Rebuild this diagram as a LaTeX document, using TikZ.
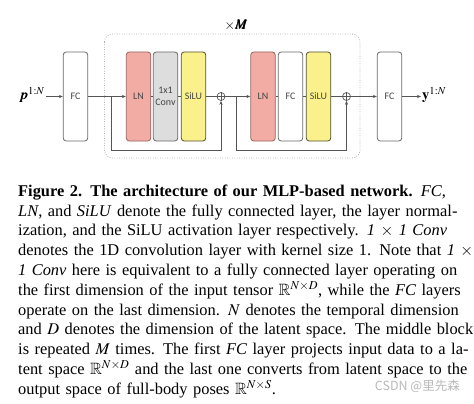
\documentclass[tikz,border=0pt]{standalone}
\usepackage{amsmath}
\usepackage{mathptmx}
\usepackage{amssymb}
\usepackage{bm}
\usepackage{fontspec}
\setmainfont{Liberation Serif}
\newfontfamily\boxfont{Carlito}
\newfontfamily\cjkfont{Noto Sans CJK SC}
\usetikzlibrary{arrows.meta}
\definecolor{lnfill}{RGB}{242,172,164}
\definecolor{lndraw}{RGB}{150,100,96}
\definecolor{convfill}{RGB}{221,221,221}
\definecolor{silufill}{RGB}{250,240,140}
\definecolor{linec}{RGB}{85,85,85}
\definecolor{boxdraw}{RGB}{105,105,105}
\definecolor{dotc}{RGB}{175,175,175}
\definecolor{wmark}{RGB}{185,185,185}
\definecolor{labc}{RGB}{70,70,70}
\tikzset{
  layer/.style={draw=boxdraw, rounded corners=3pt, minimum width=24.5pt,
    minimum height=89pt, inner sep=0pt, line width=0.8pt, align=center,
    text=labc, font=\boxfont\fontsize{10}{12.5}\selectfont},
  lnbox/.style={layer, fill=lnfill, draw=lndraw},
  convbox/.style={layer, fill=convfill},
  silubox/.style={layer, fill=silufill, draw=boxdraw!80!yellow!60!black},
  fcbox/.style={layer, fill=white},
  sumnode/.style={draw=linec, circle, minimum size=8pt, inner sep=0pt, line width=0.7pt},
  conn/.style={draw=linec, line width=0.7pt},
  arr/.style={conn, -{Stealth[length=4pt,width=3.2pt]}},
}
\begin{document}
\begin{tikzpicture}[x=1pt,y=-1pt]
\useasboundingbox (0,0) rectangle (474,404);
% repeated block frame
\draw[dotc, line width=0.8pt, dash pattern=on 0.8pt off 1.6pt, rounded corners=8pt]
  (104.5,34) rectangle (360,158);
\node[font=\fontsize{13.5}{15}\selectfont] (times) at (236,25) {$\times\bm{M}$};
% layers
\node[fcbox] (fc1) at (75.5,96.5) {FC};
\node[lnbox] (ln1) at (138.5,96.5) {LN};
\node[convbox] (conv) at (165.5,96.5) {1x1\\Conv};
\node[silubox] (silu1) at (193.5,96.5) {SiLU};
\node[sumnode] (plus1) at (221,96.5) {};
\node[lnbox] (ln2) at (263,96.5) {LN};
\node[fcbox] (fc2) at (290.5,96.5) {FC};
\node[silubox] (silu2) at (318.5,96.5) {SiLU};
\node[sumnode] (plus2) at (346.5,96.5) {};
\node[fcbox] (fc3) at (389.5,96.5) {FC};
\draw[conn] (plus1.north) -- (plus1.south) (plus1.west) -- (plus1.east);
\draw[conn] (plus2.north) -- (plus2.south) (plus2.west) -- (plus2.east);
% input / output
\node[font=\fontsize{14.5}{16}\selectfont, inner sep=1pt, anchor=east] (pin) at (46,95) {$\bm{p}^{1:N}$};
\node[font=\fontsize{14.5}{16}\selectfont, inner sep=1pt, anchor=west] (yout) at (421,95) {$\mathbf{y}^{1:N}$};
\coordinate (b1) at (111.5,96.5);
\coordinate (b2) at (236.5,96.5);
% connectors
\draw[arr] (pin.east |- fc1.west) -- (fc1.west);
\draw[arr] (fc1.east) -- (ln1.west);
\draw[conn] (ln1.east) -- (conv.west);
\draw[conn] (conv.east) -- (silu1.west);
\draw[conn] (silu1.east) -- (plus1.west);
\draw[arr] (b1) -- ++(0,53.5) -| (plus1.south);
\draw[arr] (plus1.east) -- (ln2.west);
\draw[conn] (ln2.east) -- (fc2.west);
\draw[conn] (fc2.east) -- (silu2.west);
\draw[conn] (silu2.east) -- (plus2.west);
\draw[arr] (b2) -- ++(0,53.5) -| (plus2.south);
\draw[arr] (plus2.east) -- (fc3.west);
\draw[arr] (fc3.east) -- (yout.west |- fc3.east);
% caption
\node[anchor=north west, inner sep=0pt, text width=429pt, align=left,
  font=\fontsize{16.4}{19.8}\selectfont] (caption) at (18,184.5) {%
\makebox[429pt][s]{\textbf{Figure 2. The architecture of our MLP-based network.} \textit{FC},}\\
\makebox[429pt][s]{\textit{LN}, and \textit{SiLU} denote the fully connected layer, the layer normal-}\\
\makebox[429pt][s]{ization, and the SiLU activation layer respectively. \textit{1 $\times$ 1 Conv}}\\
\makebox[429pt][s]{denotes the 1D convolution layer with kernel size 1. Note that \textit{1 $\times$}}\\
\makebox[429pt][s]{\textit{1 Conv} here is equivalent to a fully connected layer operating on}\\
\makebox[429pt][s]{the first dimension of the input tensor $\mathbb{R}^{N\times D}$, while the \textit{FC} layers}\\
\makebox[429pt][s]{operate on the last dimension. $N$ denotes the temporal dimension}\\
\makebox[429pt][s]{and $D$ denotes the dimension of the latent space. The middle block}\\
\makebox[429pt][s]{is repeated $M$ times. The first \textit{FC} layer projects input data to a la-}\\
\makebox[429pt][s]{tent space $\mathbb{R}^{N\times D}$ and the last one converts from latent space to the}\\
output space of full-body poses $\mathbb{R}^{N\times S}$.};
\node[anchor=base east, inner sep=0pt, text=wmark, font=\cjkfont\fontsize{12.5}{14}\selectfont] (wm) at (460,390) {CSDN @里先森};
\end{tikzpicture}
\end{document}
